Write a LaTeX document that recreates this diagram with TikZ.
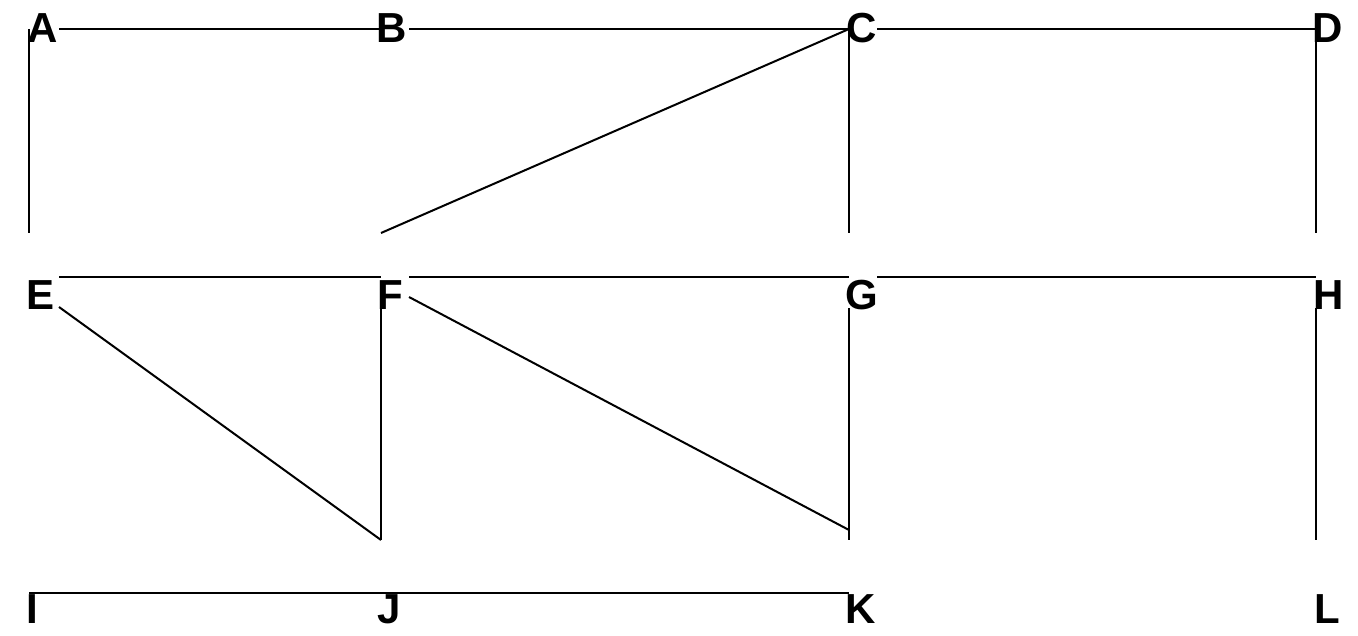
\documentclass[tikz,border=0pt]{standalone}
\usepackage{fontspec}
\setmainfont{Liberation Sans}
\usetikzlibrary{calc}

\begin{document}
\begin{tikzpicture}[x=1pt, y=-1pt,
    edge/.style={line width=2pt},
    letter/.style={anchor=base west, inner sep=0pt, font=\fontsize{42}{42}\selectfont\bfseries}]
    \useasboundingbox (0,0) rectangle (1358,636);

    % Grid points
    \coordinate (A) at (29,29);
    \coordinate (B) at (381,29);
    \coordinate (C) at (849,29);
    \coordinate (D) at (1316,29);
    \coordinate (E) at (29,277);
    \coordinate (F) at (381,277);
    \coordinate (G) at (849,277);
    \coordinate (H) at (1316,277);
    \coordinate (I) at (29,593);
    \coordinate (J) at (381,593);
    \coordinate (K) at (849,593);
    \coordinate (L) at (1316,593);
    \coordinate (base1) at (0,233);
    \coordinate (base2) at (0,540);

    % Letters
    \node[letter] (lA) at (27,43) {A};
    \node[letter] (lB) at (376,43) {B};
    \node[letter] (lC) at (846,43) {C};
    \node[letter] (lD) at (1312,43) {D};
    \node[letter] (lE) at (26,310) {E};
    \node[letter] (lF) at (377,310) {F};
    \node[letter] (lG) at (845,310) {G};
    \node[letter] (lH) at (1313,310) {H};
    \node[letter] (lI) at (26,623) {I};
    \node[letter] (lJ) at (377,623) {J};
    \node[letter] (lK) at (845,623) {K};
    \node[letter] (lL) at (1314,623) {L};

    % First row
    \draw[edge, shorten <=30pt] (A) -- (B);
    \draw[edge, shorten <=28pt] (B) -- (C);
    \draw[edge, shorten <=28pt] (C) -- (D);
    \draw[edge] (A) -- (A |- base1);
    \draw[edge] (C) -- (C |- base1);
    \draw[edge] (D) -- (D |- base1);
    \draw[edge] (C) -- (B |- base1);

    % Second row
    \draw[edge, shorten <=30pt] (E) -- (F);
    \draw[edge, shorten <=28pt] (F) -- (G);
    \draw[edge, shorten <=28pt] (G) -- (H);
    \draw[edge] ($(E)+(30,30)$) -- (F |- base2);
    \draw[edge, shorten <=31pt] (F) -- (F |- base2);
    \draw[edge] ($(F)+(28,20)$) -- ($(G |- base2)+(0,-10)$);
    \draw[edge, shorten <=31pt] (G) -- (G |- base2);
    \draw[edge, shorten <=31pt] (H) -- (H |- base2);

    % Third row
    \draw[edge] (I) -- (J);
    \draw[edge] (J) -- (K);
\end{tikzpicture}
\end{document}
